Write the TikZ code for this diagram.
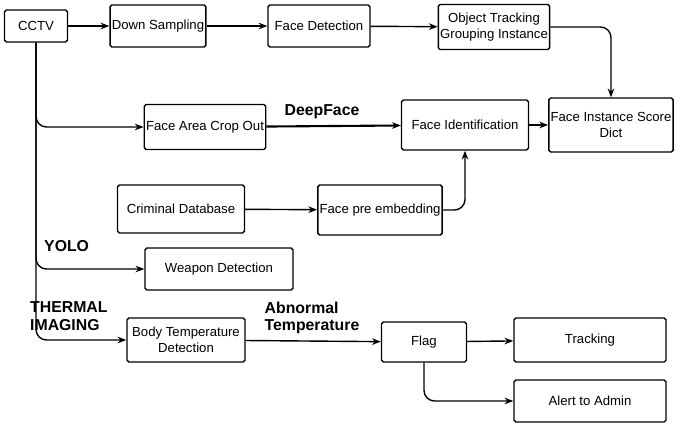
\documentclass[tikz,border=0pt]{standalone}
\usepackage{fontspec}
\setmainfont{Liberation Sans}
\usetikzlibrary{arrows.meta}
\begin{document}
\begin{tikzpicture}[
 x=0.02cm,y=-0.02cm,
 box/.style={draw,thick,rounded corners=1pt,align=center,inner sep=1pt,
  font=\fontsize{7.5}{9}\selectfont},
 arr/.style={thick,-{Stealth[length=5pt]},rounded corners=6pt},
 tag/.style={font=\bfseries\fontsize{9}{10}\selectfont,align=left}
]
\useasboundingbox (0,0) rectangle (685,426);
% top row
\node[box,minimum width=1.26cm,minimum height=0.64cm] (cctv) at (36,26) {CCTV};
\node[box,minimum width=1.86cm,minimum height=0.84cm] (down) at (158,26) {Down Sampling};
\node[box,minimum width=2.04cm,minimum height=0.84cm] (detect) at (319,26) {Face Detection};
\node[box,minimum width=2.04cm,minimum height=0.9cm] (track) at (494,27) {Object Tracking\\Grouping Instance};
% face branch
\node[box,minimum width=2.3cm,minimum height=0.9cm] (crop) at (205,127) {Face Area Crop Out};
\node[box,minimum width=2.54cm,minimum height=1cm] (ident) at (465,125) {Face Identification};
\node[box,minimum width=2.2cm,minimum height=1.08cm] (score) at (611,125) {Face Instance Score\\Dict};
\node[box,minimum width=2.54cm,minimum height=0.96cm] (crim) at (181,209) {Criminal Database};
\node[box,minimum width=2.4cm,minimum height=1cm] (embed) at (380,210) {Face pre embedding};
% weapon & thermal
\node[box,minimum width=2.96cm,minimum height=0.84cm] (weapon) at (219,269) {Weapon Detection};
\node[box,minimum width=2.36cm,minimum height=0.88cm] (body) at (186,340) {Body Temperature\\Detection};
\node[box,minimum width=1.7cm,minimum height=0.8cm] (flag) at (424,342) {Flag};
\node[box,minimum width=3.04cm,minimum height=0.88cm] (tracking) at (590,340) {Tracking};
\node[box,minimum width=3.04cm,minimum height=0.84cm] (alert) at (590,401) {Alert to Admin};
% connectors
\draw[arr] (cctv) -- (down);
\draw[arr] (down) -- (detect);
\draw[arr] (detect) -- (track);
\draw[arr] (track.east) -| (score.north);
\draw[arr] (cctv.south) |- (crop.west);
\draw[arr] (cctv.south) |- (weapon.west);
\draw[arr] (cctv.south) |- (body.west);
\draw[arr,very thick] (crop) -- (ident);
\draw[arr] (ident) -- (score);
\draw[arr] (crim) -- (embed);
\draw[arr] (embed.east) -| (ident.south);
\draw[arr] (body) -- (flag);
\draw[arr] (flag) -- (tracking);
\draw[arr] (flag.south) |- (alert.west);
% labels
\node[tag] (deepface) at (322,112) {DeepFace};
\node[tag,anchor=west] (yolo) at (38,246) {YOLO};
\node[tag,anchor=west] (thermal) at (24,316) {THERMAL\\IMAGING};
\node[tag] (abnormal) at (312,318) {Abnormal\\Temperature};
\end{tikzpicture}
\end{document}
